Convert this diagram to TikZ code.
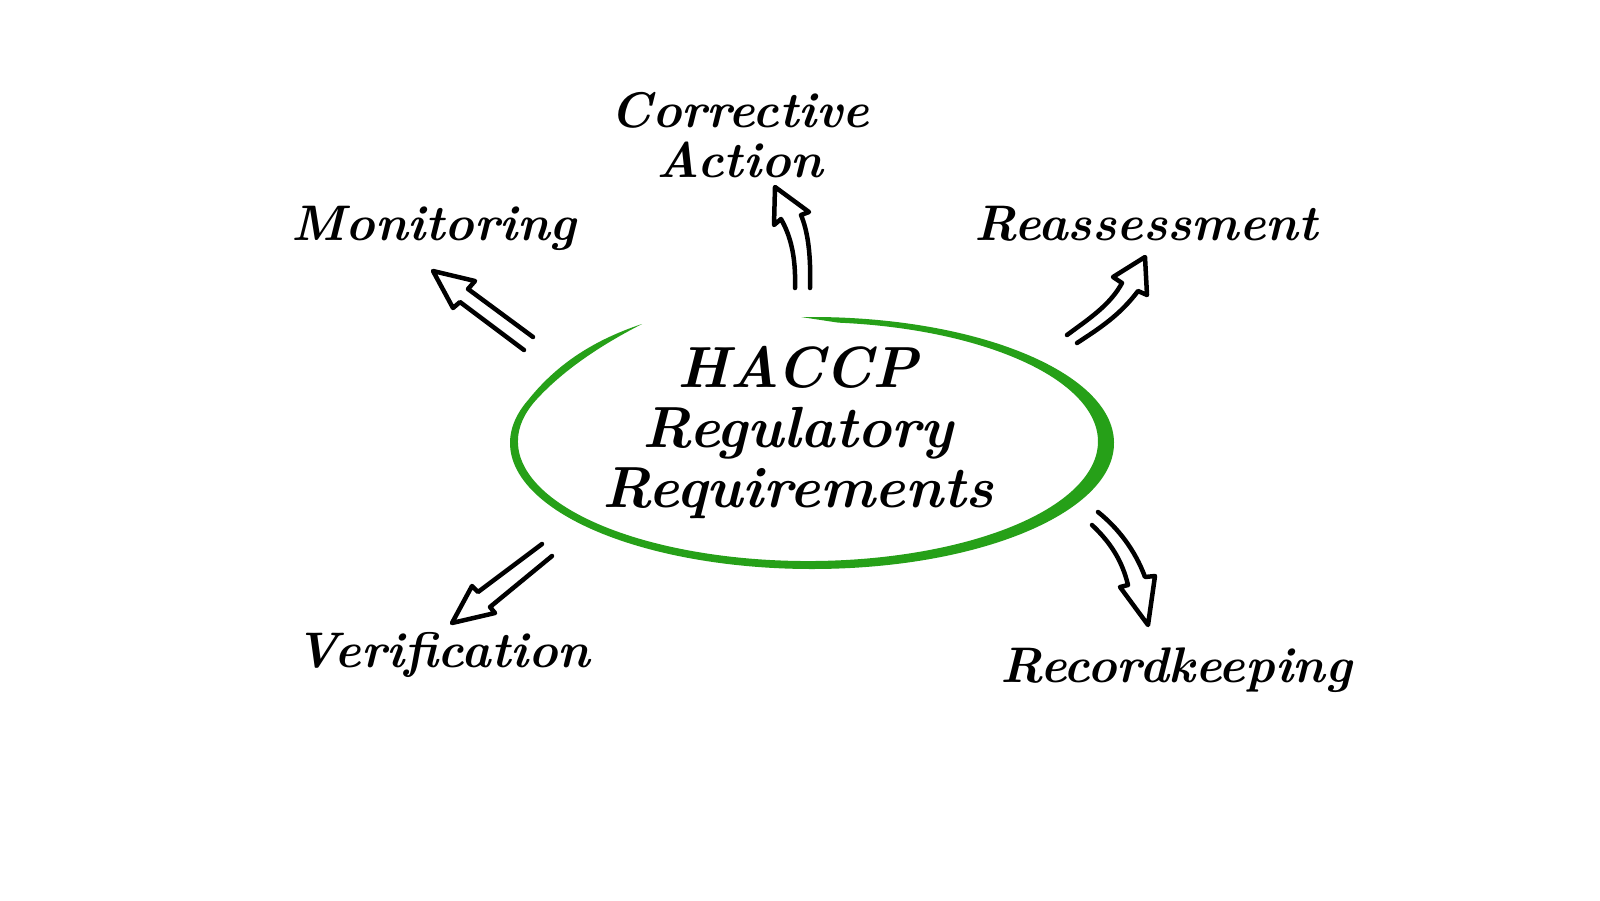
\documentclass[tikz,border=0pt]{standalone}
\usepackage{fontspec}
\usetikzlibrary{calc}
\definecolor{ringgreen}{RGB}{38,160,24}
\begin{document}
\begin{tikzpicture}[x=1pt,y=-1pt,
  lbl/.style={font=\fontsize{50}{50}\selectfont\bfseries\itshape, align=center, inner sep=0pt},
  mainlbl/.style={font=\fontsize{58}{60}\selectfont\bfseries\itshape, align=center, inner sep=0pt},
  harrow/.style={line width=4.5pt, line join=round, line cap=round}]
\fill[white] (0,0) rectangle (1600,900);
\useasboundingbox (0,0) rectangle (1600,900);

% green ring (hand-drawn crescent, thicker on the right, tapered ends)
\fill[ringgreen] ($(812,443)+(268:302 and 126)$)
  arc[start angle=268, end angle=560, x radius=302, y radius=126]
  .. controls (560,360) and (600,338) .. (642,324)
  .. controls (605,343) and (565,368) .. ($(808,441.5)+(200:290 and 119.5)$)
  arc[start angle=560, end angle=276, x radius=290, y radius=119.5]
  -- cycle;

% labels
\node[mainlbl] (center) at (798,432) {HACCP\\Regulatory\\Requirements};
\node[lbl] (corr) at (740,135) {Corrective\\Action};
\node[lbl] (mon) at (434,228) {Monitoring};
\node[lbl] (reas) at (1146,224) {Reassessment};
\node[lbl] (ver) at (443,655) {Verification};
\node[lbl] (rec) at (1176,670) {Recordkeeping};

% hollow arrows
\draw[harrow] (533,337) -- (468,289) -- (475,281) -- (433,271) -- (453,308) -- (460,302) -- (524,350);
\draw[harrow] (795,288) .. controls (796,255) and (790,235) .. (781,219) -- (774,225) -- (775,187) -- (809,212) -- (801,215) .. controls (808,232) and (811,255) .. (810,288);
\draw[harrow] (1067,335) .. controls (1090,318) and (1110,305) .. (1122,283) -- (1113,277) -- (1145,257) -- (1147,295) -- (1138,291) .. controls (1120,315) and (1100,328) .. (1077,343);
\draw[harrow] (542,544) -- (478,592) -- (472,586) -- (452,623) -- (495,613) -- (490,607) -- (552,556);
\draw[harrow] (1092,525) .. controls (1110,542) and (1122,560) .. (1128,585) -- (1120,587) -- (1148,625) -- (1155,576) -- (1145,577) .. controls (1135,550) and (1118,528) .. (1098,512);
\end{tikzpicture}
\end{document}
